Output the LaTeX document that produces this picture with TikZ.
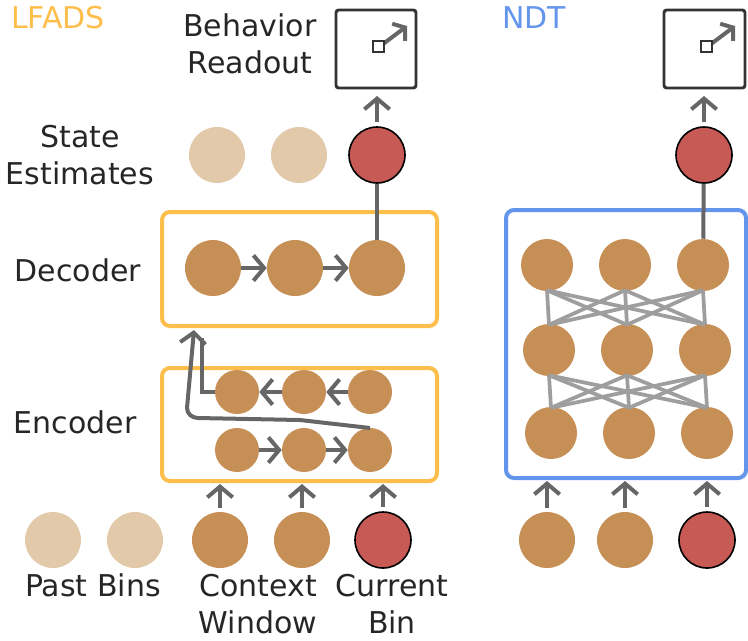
\documentclass[tikz,border=0pt]{standalone}
\usepackage{fontspec}
\setmainfont{DejaVu Sans}
\usepackage{tikz}
\usetikzlibrary{arrows.meta}
\usetikzlibrary{calc}

\definecolor{lforange}{HTML}{FDBE4B}
\definecolor{ndtblue}{HTML}{6495ED}
\definecolor{unit}{HTML}{C68F55}
\definecolor{pale}{HTML}{E2C9AA}
\definecolor{cur}{HTML}{C85A56}
\definecolor{wire}{HTML}{666666}

\tikzset{
	big/.style={circle, fill=unit, minimum size=42pt, inner sep=0pt},
	small/.style={circle, fill=unit, minimum size=33pt, inner sep=0pt},
	past/.style={circle, fill=pale, minimum size=42pt, inner sep=0pt},
	now/.style={circle, fill=cur, draw=black, line width=1.2pt, minimum size=42pt, inner sep=0pt},
	arr/.style={wire, line width=3pt, -{Straight Barb[length=8pt, width=19pt, line width=3pt]}},
	lbl/.style={font=\fontsize{22.5}{28}\selectfont, align=center, text=black!85},
	grp/.style={rounded corners=6pt, line width=3pt},
	mix/.style={black!38, line width=2.8pt},
}

\begin{document}
\begin{tikzpicture}[x=0.75pt, y=-0.75pt]
	\useasboundingbox (0, 0) rectangle (748, 640);

	% titles
	\node[lbl, text=lforange] (tl) at (58, 18) {LFADS};
	\node[lbl, text=ndtblue] (tn) at (534, 18) {NDT};
	\node[lbl] (beh) at (250, 44) {Behavior\\Readout};
	\node[lbl] (st) at (80, 155) {State\\Estimates};
	\node[lbl] (dl) at (78, 270) {Decoder};
	\node[lbl] (el) at (75, 422) {Encoder};
	\node[lbl] (pb) at (93, 585) {Past Bins};
	\node[lbl] (cw) at (258, 604) {Context\\Window};
	\node[lbl] (cb) at (392, 604) {Current\\Bin};

	% readout boxes
	\draw[black!80, line width=2.2pt, rounded corners=2pt] (336, 10) rectangle (416, 88);
	\draw[black!80, line width=2.2pt, rounded corners=2pt] (664, 10) rectangle (745, 88);
	\foreach \bx in {379, 707} {
		\draw[wire, line width=3pt, -{Straight Barb[length=6pt, width=16pt, line width=3pt]}] (\bx, 47) -- (\bx+28, 26);
		\draw[black!80, fill=white, line width=1.3pt] (\bx-6, 41) rectangle (\bx+5, 52);
	}

	% LFADS
	\draw[grp, lforange] (162, 212) rectangle (437, 326);
	\draw[grp, lforange] (162, 368) rectangle (437, 481);

	\node[past] (s1) at (217, 155) {};
	\node[past] (s2) at (299, 155) {};
	\node[now] (s3) at (377, 155) {};

	\node[big] (d1) at (213, 268) {};
	\node[big] (d2) at (295, 268) {};
	\node[big] (d3) at (377, 268) {};

	\node[small] (b1) at (237, 392) {};
	\node[small] (b2) at (304, 392) {};
	\node[small] (b3) at (370, 392) {};
	\node[small] (f1) at (237, 450) {};
	\node[small] (f2) at (304, 450) {};
	\node[small] (f3) at (370, 450) {};

	\node[past] (p1) at (53, 540) {};
	\node[past] (p2) at (135, 540) {};
	\node[big] (c1) at (220, 540) {};
	\node[big] (c2) at (302, 540) {};
	\node[now] (c3) at (383, 540) {};

	\draw[arr] (d1) -- (d2);
	\draw[arr] (d2) -- (d3);
	\draw[wire, line width=3pt] (d3) -- (s3);
	\draw[arr] (s3.north) ++(0, -4) -- (377, 96);
	\draw[arr] (b3) -- (b2);
	\draw[arr] (b2) -- (b1);
	\draw[arr] (f1) -- (f2);
	\draw[arr] (f2) -- (f3);
	\draw[wire, line width=3pt] (b1.west) -- (202, 392) -- (202, 338);
	\draw[arr] (370, 428) -- (300, 420) -- (198, 418) to[out=180, in=-90] (187, 408) -- (194, 330);
	\foreach \i/\x in {1/220, 2/302, 3/383}
		\draw[arr] (c\i.north) ++(0, -4) -- (\x, 484);

	% NDT
	\draw[grp, ndtblue] (506, 210) rectangle (746, 478);
	\node[now] (n0) at (704, 155) {};
	\foreach \i/\x in {1/547, 2/625, 3/703} {
		\node[big, minimum size=39pt] (m\i) at (\x, 265) {};
		\node[big, minimum size=39pt] (h\i) at (\x+2, 350) {};
		\node[big, minimum size=39pt] (l\i) at (\x+4, 433) {};
	}
	\foreach \i in {1, 2, 3}
		\foreach \j in {1, 2, 3} {
			\draw[mix] ($(m\i.south)+(0,-1)$) -- ($(h\j.north)+(0,1)$);
			\draw[mix] ($(h\i.south)+(0,-1)$) -- ($(l\j.north)+(0,1)$);
		}
	\draw[wire, line width=3pt] (m3) -- (n0);
	\draw[arr] (n0.north) ++(0, -4) -- (704, 96);

	\node[big] (i1) at (547, 540) {};
	\node[big] (i2) at (625, 540) {};
	\node[now] (i3) at (707, 540) {};
	\foreach \i/\x in {1/547, 2/625, 3/707}
		\draw[arr] (i\i.north) ++(0, -4) -- (\x, 481);
\end{tikzpicture}
\end{document}
